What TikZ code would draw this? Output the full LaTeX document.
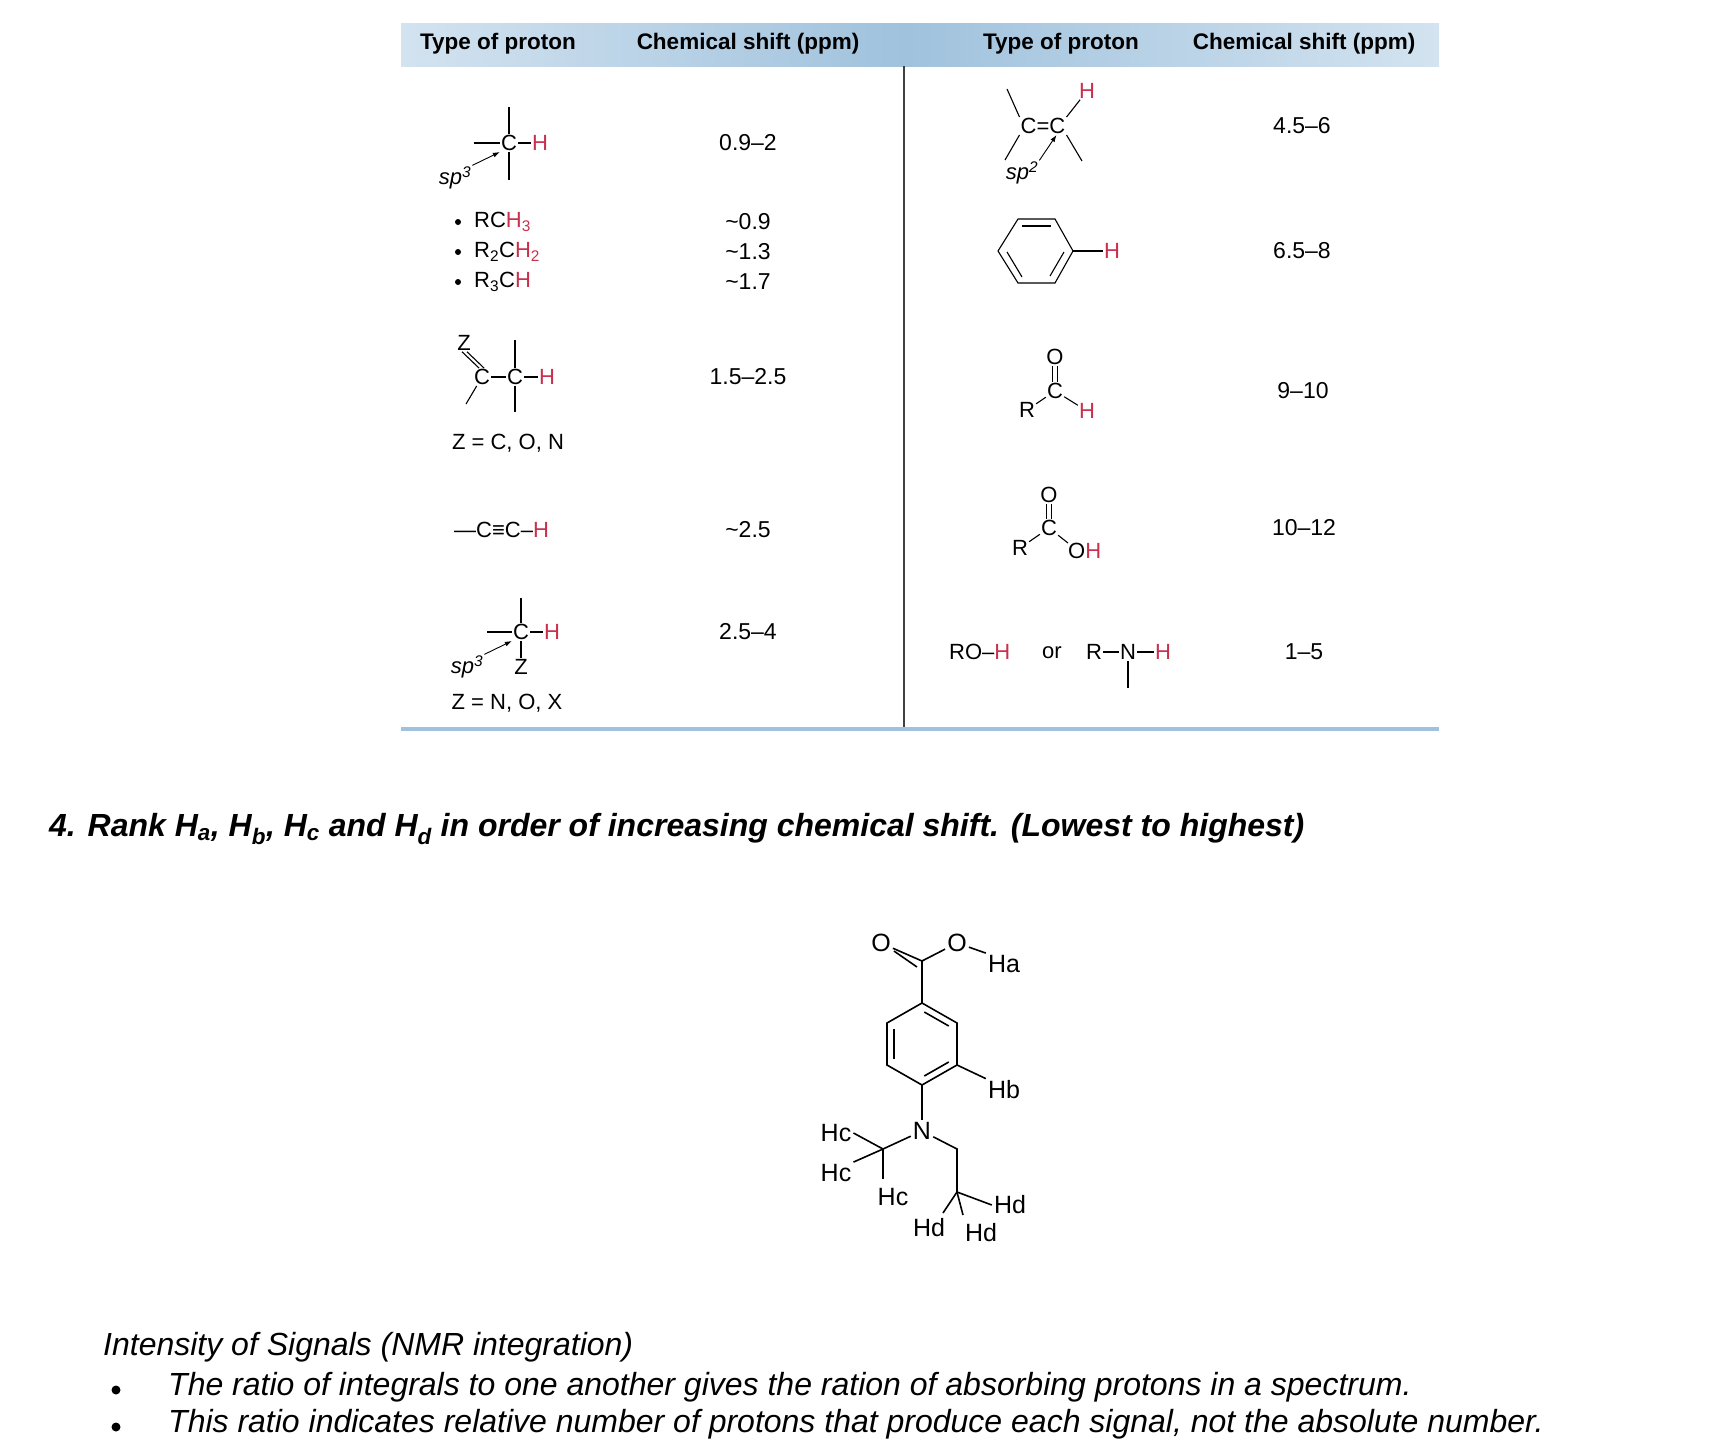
\documentclass[tikz,border=0pt]{standalone}
\usepackage{fontspec}
\setmainfont{Liberation Sans}
\usetikzlibrary{arrows.meta,calc}
\definecolor{chred}{HTML}{C8304E}
\definecolor{bandL}{HTML}{D3E3F0}
\definecolor{bandM}{HTML}{A0C2DD}
\begin{document}
\begin{tikzpicture}[x=1pt,y=-1pt,
  every node/.style={inner sep=1pt,font=\fontsize{22}{26}\selectfont},
  hdr/.style={font=\fontsize{22.5}{26}\selectfont\bfseries},
  val/.style={font=\fontsize{23}{26}\selectfont},
  mol/.style={font=\fontsize{25}{27}\selectfont,inner sep=2pt},
  bond/.style={line width=1.1pt},
  mbond/.style={line width=1.6pt},
  hr/.style={text=chred},
  dotb/.style={circle,fill=black,inner sep=0pt,minimum size=6pt},
  sparrow/.style={line width=0.9pt,-{Latex[length=7pt,width=5pt]}}]
\useasboundingbox (0,0) rectangle (1710,1448);
% header band
\shade[left color=bandL,right color=bandM] (401,23) rectangle (904,66);
\shade[left color=bandM,right color=bandL] (904,23) rectangle (1439,66);
\node[hdr] (h1) at (498,44) {Type of proton};
\node[hdr] (h2) at (748,44) {Chemical shift (ppm)};
\node[hdr] (h3) at (1061,44) {Type of proton};
\node[hdr] (h4) at (1304,44) {Chemical shift (ppm)};
\draw[line width=1.5pt,black!75] (904,66) -- (904,727);
\draw[line width=4pt,bandM] (401,729) -- (1439,729);
% row 1
\node (c1) at (509,143) {C};
\node[hr] (hh1) at (540,143) {H};
\draw[bond] (c1) -- (hh1);
\draw[bond] (509,107) -- (c1);
\draw[bond] (c1) -- (509,180);
\draw[bond] (474,143) -- (c1);
\node (sp1) at (455,178) {\itshape sp\textsuperscript{3}};
\draw[sparrow] (sp1.north east) -- (c1.south west);
\node[val] (v1) at (748,143) {0.9–2};
% bullets
\node[dotb] (bd1) at (458,222) {};
\node[dotb] (bd2) at (458,252) {};
\node[dotb] (bd3) at (458,282) {};
\node[anchor=west] (b1) at (473,222) {RC\textcolor{chred}{H\textsubscript{3}}};
\node[anchor=west] (b2) at (473,252) {R\textsubscript{2}C\textcolor{chred}{H\textsubscript{2}}};
\node[anchor=west] (b3) at (473,282) {R\textsubscript{3}C\textcolor{chred}{H}};
\node[val] (v2) at (748,222) {\textasciitilde0.9};
\node[val] (v3) at (748,252) {\textasciitilde1.3};
\node[val] (v4) at (748,282) {\textasciitilde1.7};
% row Z
\node (z1) at (464,343) {Z};
\node (zc1) at (482,377) {C};
\node (zc2) at (515,377) {C};
\node[hr] (zh) at (547,377) {H};
\draw[bond] (zc1) -- (zc2);
\draw[bond] (zc2) -- (zh);
\draw[bond] ($(z1.south)+(-2,0)$) -- ($(zc1.north)+(-3,0)$);
\draw[bond] ($(z1.south)+(3,0)$) -- ($(zc1.north)+(2,0)$);
\draw[bond] (zc1) -- (466,404);
\draw[bond] (515,340) -- (zc2);
\draw[bond] (zc2) -- (515,412);
\node (zl) at (508,443) {Z = C, O, N};
\node[val] (v5) at (748,377) {1.5–2.5};
% alkyne
\node[anchor=west] (alk) at (453,530) {—C≡C–\textcolor{chred}{H}};
\node[val] (v6) at (748,530) {\textasciitilde2.5};
% row 5
\node (c5) at (521,632) {C};
\node[hr] (h5) at (552,632) {H};
\node (z5) at (521,667) {Z};
\draw[bond] (c5) -- (h5);
\draw[bond] (c5) -- (z5);
\draw[bond] (521,598) -- (c5);
\draw[bond] (487,632) -- (c5);
\node (sp5) at (467,667) {\itshape sp\textsuperscript{3}};
\draw[sparrow] (sp5.north east) -- (c5.south west);
\node (zl5) at (507,703) {Z = N, O, X};
\node[val] (v7) at (748,632) {2.5–4};
% alkene
\node (cc2) at (1043,126) {C=C};
\node[hr] (ah) at (1087,91) {H};
\draw[bond] (1007,89) -- (cc2.north west);
\draw[bond] (cc2.south west) -- (1005,160);
\draw[bond] (cc2.north east) -- (ah);
\draw[bond] (cc2.south east) -- (1082,161);
\node (sp2) at (1022,173) {\itshape sp\textsuperscript{2}};
\draw[sparrow] (sp2.north east) -- ($(cc2.south east)+(-10,0)$);
\node[val] (v8) at (1302,126) {4.5–6};
% benzene
\draw[bond] (998,251) -- (1018,219) -- (1055,219) -- (1073,251) -- (1055,283) -- (1018,283) -- cycle;
\draw[bond] (1022,226) -- (1051,226);
\draw[bond] (1064,252) -- (1050,276);
\draw[bond] (1007,252) -- (1022,277);
\node[hr] (bh) at (1112,251) {H};
\draw[bond] (1073,251) -- (bh);
\node[val] (v9) at (1302,251) {6.5–8};
% aldehyde
\node (alo) at (1055,357) {O};
\node (alc) at (1055,391) {C};
\node (alr) at (1027,410) {R};
\node[hr] (alh) at (1087,411) {H};
\draw[bond] ($(alo.south)+(-2.5,0)$) -- ($(alc.north)+(-2.5,0)$);
\draw[bond] ($(alo.south)+(2.5,0)$) -- ($(alc.north)+(2.5,0)$);
\draw[bond] (alr) -- (alc);
\draw[bond] (alc) -- (alh);
\node[val] (v10) at (1303,391) {9–10};
% acid
\node (aco) at (1049,495) {O};
\node (acc) at (1049,528) {C};
\node (acr) at (1020,548) {R};
\node[anchor=west,inner sep=0pt] (acoh) at (1068,551) {O\textcolor{chred}{H}};
\draw[bond] ($(aco.south)+(-2.5,0)$) -- ($(acc.north)+(-2.5,0)$);
\draw[bond] ($(aco.south)+(2.5,0)$) -- ($(acc.north)+(2.5,0)$);
\draw[bond] (acr) -- (acc);
\draw[bond] (acc) -- (acoh.north west);
\node[val] (v11) at (1304,528) {10–12};
% ROH row
\node[anchor=west] (roh) at (948,652) {RO–\textcolor{chred}{H}};
\node (or) at (1052,653) {or};
\node (nn) at (1128,652) {N};
\node (nr) at (1094,652) {R};
\node[hr] (nh) at (1163,652) {H};
\draw[bond] (nr) -- (nn);
\draw[bond] (nn) -- (nh);
\draw[bond] (nn) -- (1128,688);
\node[val] (v12) at (1304,652) {1–5};
% question
\node[anchor=west,font=\fontsize{32}{36}\selectfont\bfseries\itshape] (q) at (48,829)
 {4. Rank H\textsubscript{a}, H\textsubscript{b}, H\textsubscript{c} and H\textsubscript{d} in order of increasing chemical shift. (Lowest to highest)};
% molecule
\node[mol] (o1) at (881,943) {O};
\node[mol] (o2) at (957,943) {O};
\node[mol] (ha) at (1004,964) {Ha};
\coordinate (cc) at (922,961);
\coordinate (r1) at (922,1003);
\coordinate (r2) at (957,1023);
\coordinate (r3) at (957,1065);
\coordinate (r4) at (922,1085);
\coordinate (r5) at (887,1065);
\coordinate (r6) at (887,1023);
\draw[mbond] (o1) -- (cc);
\draw[mbond] ($(o1.east)+(1,8)$) -- ($(cc)+(-5,6)$);
\draw[mbond] (cc) -- (o2);
\draw[mbond] (o2) -- (ha.north west);
\draw[mbond] (cc) -- (r1);
\draw[mbond] (r1) -- (r2) -- (r3) -- (r4) -- (r5) -- (r6) -- cycle;
\draw[mbond] ($(r1)!0.15!(r2)+(-3,6)$) -- ($(r1)!0.85!(r2)+(-3,6)$);
\draw[mbond] ($(r3)!0.15!(r4)+(-3,-6)$) -- ($(r3)!0.85!(r4)+(-3,-6)$);
\draw[mbond] ($(r5)!0.15!(r6)+(7,0)$) -- ($(r5)!0.85!(r6)+(7,0)$);
\node[mol] (hb) at (1004,1090) {Hb};
\draw[mbond] (r3) -- (hb.north west);
\node[mol] (n) at (922,1131) {N};
\draw[mbond] (r4) -- (n);
\coordinate (cl) at (883,1149);
\node[mol] (hc1) at (836,1133) {Hc};
\node[mol] (hc2) at (836,1173) {Hc};
\node[mol] (hc3) at (893,1197) {Hc};
\draw[mbond] (n) -- (cl);
\draw[mbond] (cl) -- (hc1.east);
\draw[mbond] (cl) -- (hc2.north east);
\draw[mbond] (cl) -- (883,1179);
\coordinate (cr) at (957,1149);
\coordinate (cd) at (957,1192);
\draw[mbond] (n) -- (cr) -- (cd);
\node[mol] (hd1) at (1010,1205) {Hd};
\node[mol] (hd2) at (929,1228) {Hd};
\node[mol] (hd3) at (981,1233) {Hd};
\draw[mbond] (cd) -- (hd1.west);
\draw[mbond] (cd) -- (943,1213);
\draw[mbond] (cd) -- (963,1215);
% bottom text
\node[anchor=west,font=\fontsize{32}{36}\selectfont\itshape] (t0) at (102,1347) {Intensity of Signals (NMR integration)};
\node[dotb,minimum size=9pt] (d1) at (116,1390) {};
\node[dotb,minimum size=9pt] (d2) at (116,1427) {};
\node[anchor=west,font=\fontsize{32}{36}\selectfont\itshape] (t1) at (167,1387) {The ratio of integrals to one another gives the ration of absorbing protons in a spectrum.};
\node[anchor=west,font=\fontsize{32}{36}\selectfont\itshape] (t2) at (167,1424) {This ratio indicates relative number of protons that produce each signal, not the absolute number.};
\end{tikzpicture}
\end{document}
